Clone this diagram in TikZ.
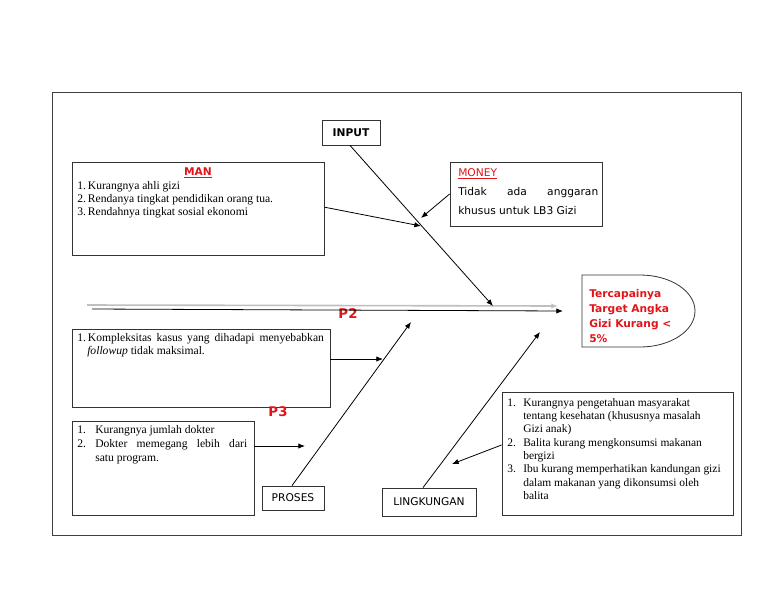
\documentclass[tikz,border=0pt]{standalone}
\usepackage{fontspec}
\setmainfont{Liberation Serif}
\newfontfamily\sansf{DejaVu Sans}
\usetikzlibrary{arrows.meta}
\definecolor{hred}{RGB}{225,20,25}
\begin{document}
\begin{tikzpicture}[x=0.75pt,y=-0.75pt,
  box/.style={draw=black!80,line width=0.6pt,rectangle,inner sep=0pt},
  txt/.style={inner sep=0pt,anchor=north west,font=\fontsize{8.7}{10}\selectfont,align=left},
  stxt/.style={inner sep=0pt,font=\sansf\fontsize{8}{10}\selectfont},
  con/.style={line width=0.6pt,-{Latex[length=5pt,width=4pt]}},
  plain/.style={line width=0.6pt}]
\useasboundingbox (0,0) rectangle (768,594);
\draw[black!75,line width=0.6pt] (52,92) rectangle (741,535);
% boxes
\node[box,minimum width=43.5pt,minimum height=18.75pt,font=\sansf\bfseries\fontsize{8}{10}\selectfont] (input) at (351,132.5) {INPUT};
\node[box,minimum width=189pt,minimum height=69.75pt] (man) at (198,208.5) {};
\node[box,minimum width=114pt,minimum height=48pt] (money) at (526,194) {};
\node[box,minimum width=193.5pt,minimum height=58.5pt] (metode) at (201,368) {};
\node[box,minimum width=136.5pt,minimum height=70.5pt] (dokter) at (163,468) {};
\node[box,minimum width=46.5pt,minimum height=18pt,font=\sansf\fontsize{8}{10}\selectfont] (proses) at (293,498) {PROSES};
\node[box,minimum width=70.5pt,minimum height=21pt,font=\sansf\fontsize{8}{10}\selectfont] (lingk) at (429,502) {LINGKUNGAN};
\node[box,minimum width=173.25pt,minimum height=92.25pt] (env) at (617.5,453.5) {};
% head
\draw[black!80,line width=0.6pt] (582,275) -- (640,275) arc[start angle=90,end angle=-90,x radius=41.25pt,y radius=27pt] -- (582,347) -- cycle;
\node[inner sep=0pt,anchor=north west,align=left,text=hred,font=\sansf\bfseries\fontsize{8}{11.25}\selectfont] (head) at (589,289) {Tercapainya\\Target Angka\\Gizi Kurang <\\5\%};
% texts
\node[stxt,font=\sansf\bfseries\fontsize{8}{10}\selectfont,text=hred] (mant) at (198,173) {\underline{MAN}};
\node[txt] (manl) at (77,181) {1.\,Kurangnya ahli gizi\\2.\,Rendanya tingkat pendidikan orang tua.\\3.\,Rendahnya tingkat sosial ekonomi};
\node[inner sep=0pt,anchor=north west] (moneyt) at (458,168) {\parbox[t]{105pt}{\sansf\fontsize{8}{14.5}\selectfont\textcolor{hred}{\underline{MONEY}}\\ Tidak ada anggaran\linebreak khusus untuk LB3 Gizi}};
\node[inner sep=0pt,anchor=north west] (metodet) at (77,333) {\parbox[t]{185pt}{\fontsize{8.7}{10}\selectfont\hangindent=7.5pt\hangafter=1\noindent 1.\,Kompleksitas kasus yang dihadapi menyebabkan\linebreak \textit{followup} tidak maksimal.}};
\node[inner sep=0pt,anchor=north west] (doktert) at (77,425) {\parbox[t]{127.5pt}{\fontsize{8.7}{10.5}\selectfont\noindent\makebox[13.5pt][l]{1.}Kurangnya jumlah dokter\par\hangindent=13.5pt\hangafter=1\noindent\makebox[13.5pt][l]{2.}Dokter memegang lebih dari\linebreak satu program.}};
\node[txt,font=\fontsize{8.6}{10}\selectfont] (envt) at (507,398) {\makebox[12pt][l]{1.}Kurangnya pengetahuan masyarakat\\\hspace*{12pt}tentang kesehatan (khususnya masalah\\\hspace*{12pt}Gizi anak)\\\makebox[12pt][l]{2.}Balita kurang mengkonsumsi makanan\\\hspace*{12pt}bergizi\\\makebox[12pt][l]{3.}Ibu kurang memperhatikan kandungan gizi\\\hspace*{12pt}dalam makanan yang dikonsumsi oleh\\\hspace*{12pt}balita};
\node[stxt,text=hred,font=\sansf\bfseries\fontsize{10}{12}\selectfont] (p2) at (348,314) {P2};
\node[stxt,text=hred,font=\sansf\bfseries\fontsize{10}{12}\selectfont] (p3) at (278,412) {P3};
% spine
\coordinate (g0) at (87,305);
\coordinate (g1) at (558,306);
\coordinate (b0) at (92,309);
\coordinate (b1) at (563,311);
\draw[line width=1.2pt,black!25,-{Latex[length=5pt,width=4pt]}] (g0) -- (g1);
\draw[con] (b0) -- (b1);
% connectors
\coordinate (t1) at (493,306);
\coordinate (t2) at (421,226);
\coordinate (t3) at (421,218);
\coordinate (t4) at (383,359);
\coordinate (t5) at (305,446);
\coordinate (t6) at (411,322);
\coordinate (t7) at (540,332);
\coordinate (t8) at (452,464);
\draw[con] ([xshift=-0.75pt]input.south) -- (t1);
\draw[con] ([yshift=1pt]man.east) -- (t2);
\draw[con] (money.west) -- (t3);
\draw[con] ([yshift=6.75pt]metode.east) -- (t4);
\draw[con] ([yshift=16.5pt]dokter.east) -- (t5);
\draw[con] ([xshift=-0.75pt]proses.north) -- (t6);
\draw[con] ([xshift=-4.5pt]lingk.north) -- (t7);
\draw[con] ([yshift=6.4pt]env.west) -- (t8);
\end{tikzpicture}
\end{document}
